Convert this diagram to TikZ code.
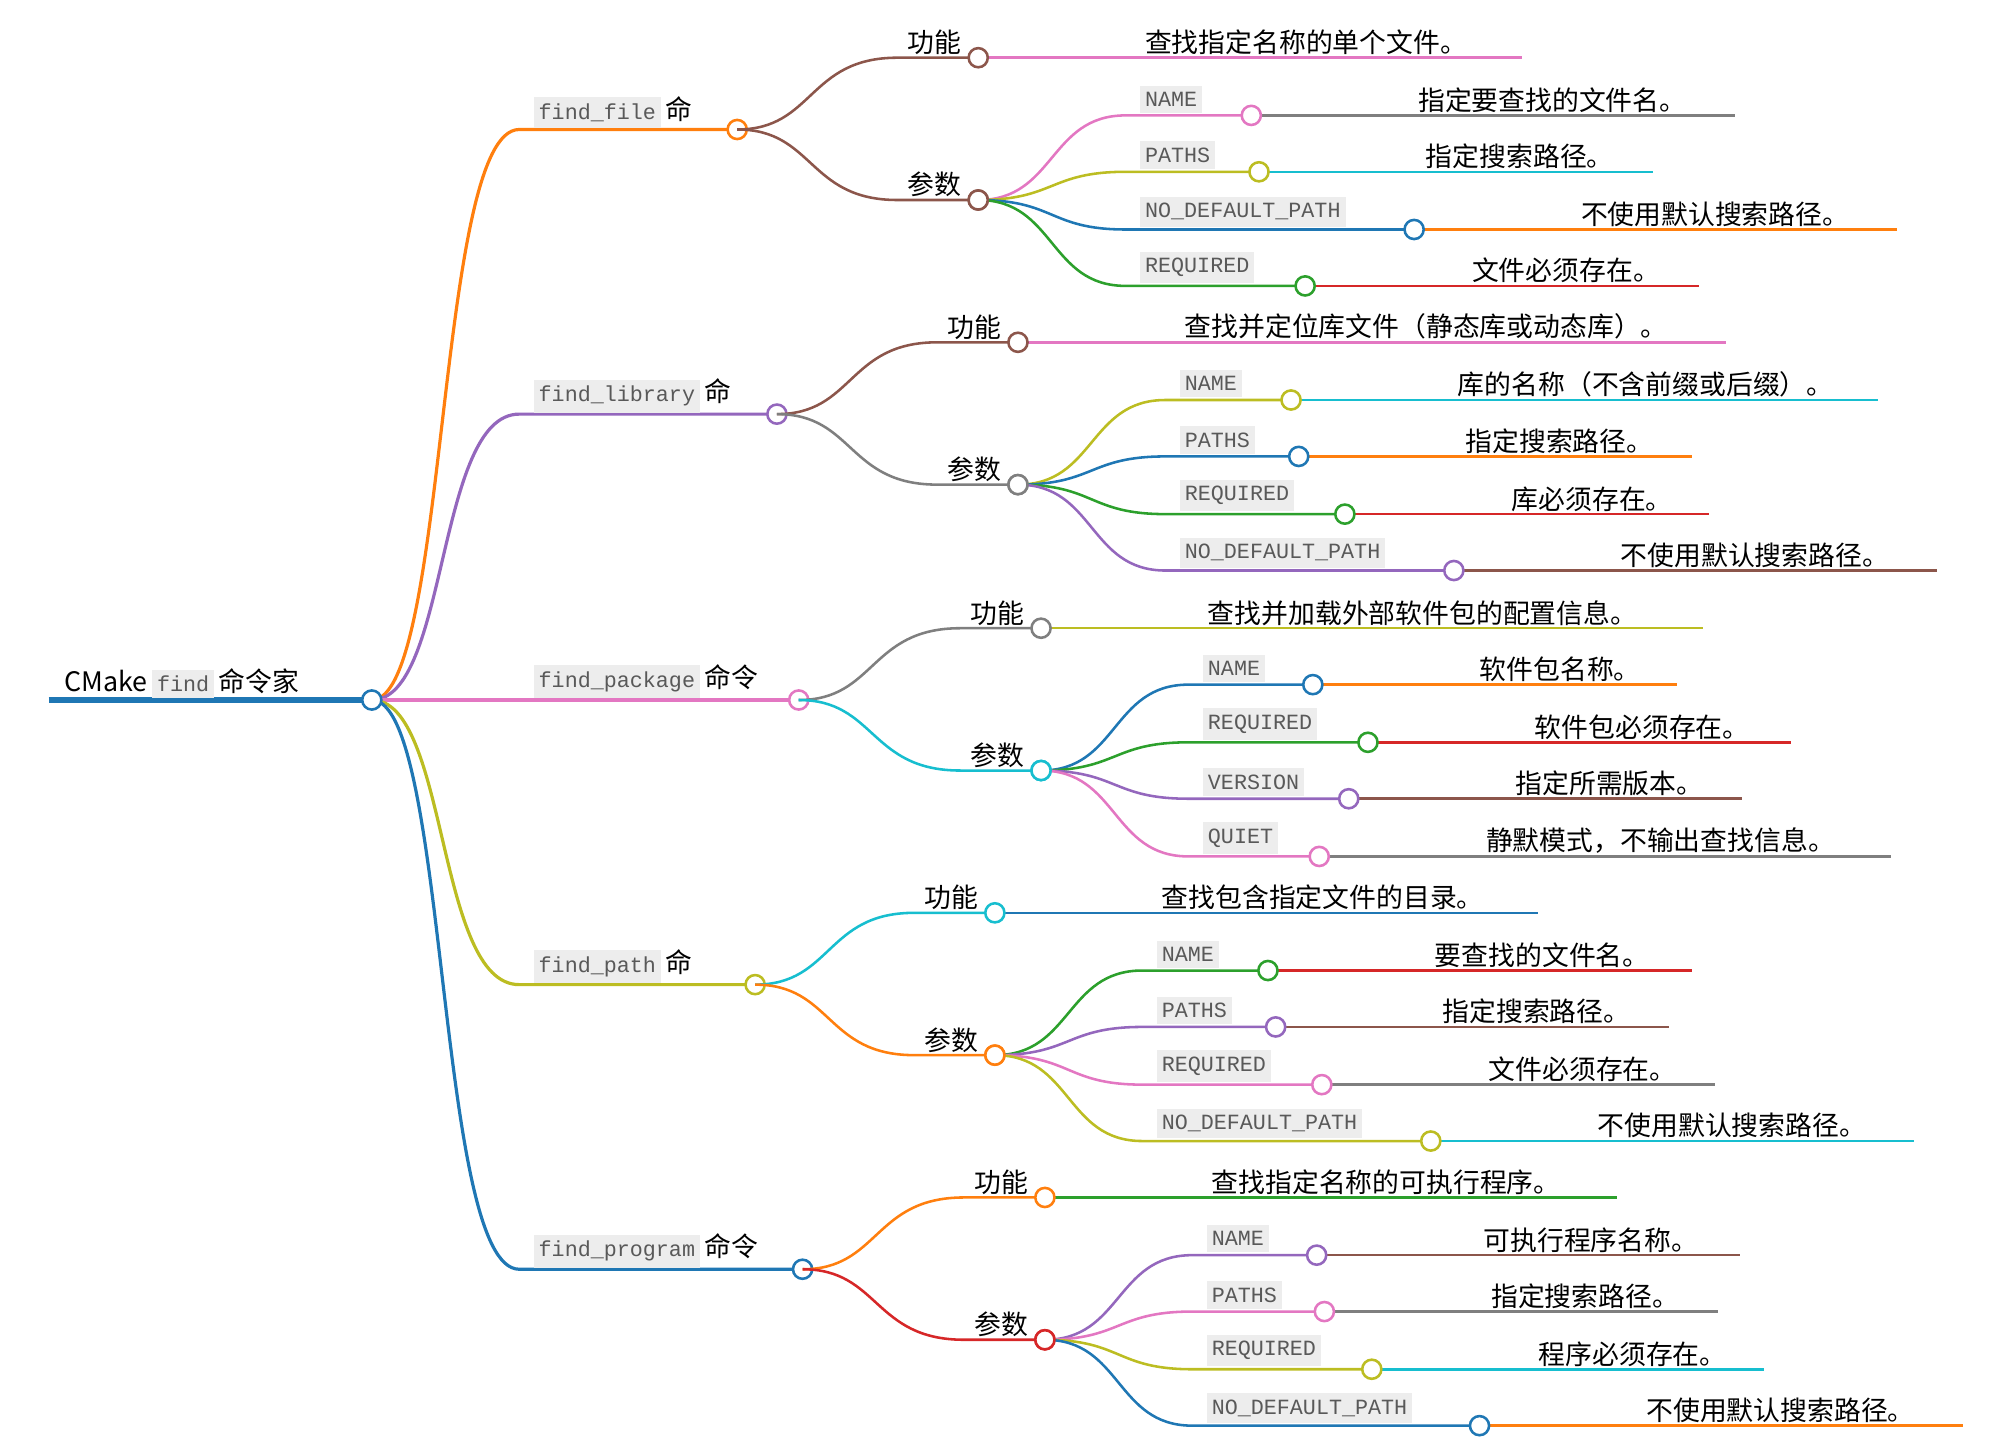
\documentclass[tikz,border=0pt]{standalone}
\usepackage{fontspec}
\setmainfont{Noto Sans CJK SC}
\setmonofont{Liberation Mono}
\usetikzlibrary{calc}
\definecolor{cO}{HTML}{FF7F0E}\definecolor{cP}{HTML}{9467BD}\definecolor{cK}{HTML}{E377C2}
\definecolor{cY}{HTML}{BCBD22}\definecolor{cB}{HTML}{1F77B4}\definecolor{cN}{HTML}{8C564B}
\definecolor{cG}{HTML}{7F7F7F}\definecolor{cC}{HTML}{17BECF}\definecolor{cV}{HTML}{2CA02C}
\definecolor{cR}{HTML}{D62728}
\tikzset{edge/.style={line width=2pt},
 circ/.style={circle,fill=white,line width=2pt,minimum size=15pt,inner sep=0pt},
 txt/.style={font=\fontsize{21}{24}\selectfont,inner sep=1pt,yshift=1pt},
 tag/.style={font=\fontsize{17}{19}\selectfont\ttfamily,fill=black!7,text=black!65,inner xsep=4pt,inner ysep=5pt,yshift=2pt}}
\newcommand\tg[1]{\tikz[baseline=(t.base)]\node[tag,yshift=0pt](t){#1};}
% param: px py y cx edgecol leafcol end label text
\newcommand\pp[9]{%
 \coordinate (s#3) at ({#1+115},#3);
 \coordinate (e#3) at (#7,#3);
 \draw[edge,#6] (#4,#3) -- (e#3);
 \draw[edge,#5] (#1,#2) .. controls ({#1+60},#2) and ({#1+55},#3) .. (s#3) -- (#4,#3);
 \node[tag,anchor=south west] (l#3) at ({#1+126},#3) {#8};
 \node[txt,anchor=south west] (t#3) at ({#4+129},#3) {#9};
 \node[circ,draw=#5] (c#3) at (#4,#3) {};
}
% level2: px py y cx edgecol leafcol end label text
\newcommand\fn[9]{%
 \coordinate (s#3) at ({#4-63},#3);
 \coordinate (e#3) at (#7,#3);
 \draw[edge,#6] (#4,#3) -- (e#3);
 \draw[edge,#5] (#1,#2) .. controls ({#1+60},#2) and ({#1+55},#3) .. (s#3) -- (#4,#3);
 \node[txt,anchor=south east] (l#3) at ({#4-12},#3) {#8};
 \ifx&#9&\else\node[txt,anchor=south west] (t#3) at ({#4+129},#3) {#9};\fi
 \node[circ,draw=#5] (c#3) at (#4,#3) {};
}
\begin{document}
\begin{tikzpicture}[x=1bp,y=-1bp]
\useasboundingbox (0,0) rectangle (1560,1131);
% level 1
\newcommand\lo[5]{%
 \coordinate (s#1) at (405,#1);
 \draw[line width=2.5pt,#3] (root) .. controls (350,546) and (340,#1) .. (s#1) -- (#2,#1);
 \node[txt,anchor=south west,inner sep=0pt] (l#1) at (416,#1) {\tg{#4}\,#5};
 \node[circ,draw=#3] (c#1) at (#2,#1) {};
}
\coordinate (root) at (290,546);
\coordinate (r0) at (38,546);
\lo{101}{575}{cO}{find\_file}{命}
\lo{323}{606}{cP}{find\_library}{命}
\lo{546}{623}{cK}{find\_package}{命令}
\lo{768}{589}{cY}{find\_path}{命}
\lo{990}{626}{cB}{find\_program}{命令}
\draw[line width=4pt,cB] (r0) -- (root);
\node[txt,anchor=south west,inner sep=0pt] at (50,546) {CMake\,\tg{find}\,命令家};
\node[circ,draw=cB] (rc) at (root) {};
% group 1
\fn{575}{101}{45}{763}{cN}{cK}{1187}{功能}{查找指定名称的单个文件。}
\fn{575}{101}{156}{763}{cN}{cN}{763}{参数}{}
\pp{763}{156}{90}{976}{cK}{cG}{1353}{NAME}{指定要查找的文件名。}
\pp{763}{156}{134}{982}{cY}{cC}{1289}{PATHS}{指定搜索路径。}
\pp{763}{156}{179}{1103}{cB}{cO}{1480}{NO\_DEFAULT\_PATH}{不使用默认搜索路径。}
\pp{763}{156}{223}{1018}{cV}{cR}{1325}{REQUIRED}{文件必须存在。}
\node[circ,draw=cN] at (763,156) {};
% group 2
\fn{606}{323}{267}{794}{cN}{cK}{1346}{功能}{查找并定位库文件（静态库或动态库）。}
\fn{606}{323}{378}{794}{cG}{cG}{794}{参数}{}
\pp{794}{378}{312}{1007}{cY}{cC}{1465}{NAME}{库的名称（不含前缀或后缀）。}
\pp{794}{378}{356}{1013}{cB}{cO}{1320}{PATHS}{指定搜索路径。}
\pp{794}{378}{401}{1049}{cV}{cR}{1333}{REQUIRED}{库必须存在。}
\pp{794}{378}{445}{1134}{cP}{cN}{1511}{NO\_DEFAULT\_PATH}{不使用默认搜索路径。}
\node[circ,draw=cG] at (794,378) {};
% group 3
\fn{623}{546}{490}{812}{cG}{cY}{1328}{功能}{查找并加载外部软件包的配置信息。}
\fn{623}{546}{601}{812}{cC}{cC}{812}{参数}{}
\pp{812}{601}{534}{1024}{cB}{cO}{1308}{NAME}{软件包名称。}
\pp{812}{601}{579}{1067}{cV}{cR}{1397}{REQUIRED}{软件包必须存在。}
\pp{812}{601}{623}{1052}{cP}{cN}{1359}{VERSION}{指定所需版本。}
\pp{812}{601}{668}{1029}{cK}{cG}{1475}{QUIET}{静默模式，不输出查找信息。}
\node[circ,draw=cC] at (812,601) {};
% group 4
\fn{589}{768}{712}{776}{cC}{cB}{1200}{功能}{查找包含指定文件的目录。}
\fn{589}{768}{823}{776}{cO}{cO}{776}{参数}{}
\pp{776}{823}{757}{989}{cV}{cR}{1320}{NAME}{要查找的文件名。}
\pp{776}{823}{801}{995}{cP}{cN}{1302}{PATHS}{指定搜索路径。}
\pp{776}{823}{846}{1031}{cK}{cG}{1338}{REQUIRED}{文件必须存在。}
\pp{776}{823}{890}{1116}{cY}{cC}{1493}{NO\_DEFAULT\_PATH}{不使用默认搜索路径。}
\node[circ,draw=cO] at (776,823) {};
% group 5
\fn{626}{990}{934}{815}{cO}{cV}{1261}{功能}{查找指定名称的可执行程序。}
\fn{626}{990}{1045}{815}{cR}{cR}{815}{参数}{}
\pp{815}{1045}{979}{1027}{cP}{cN}{1357}{NAME}{可执行程序名称。}
\pp{815}{1045}{1023}{1033}{cK}{cG}{1340}{PATHS}{指定搜索路径。}
\pp{815}{1045}{1068}{1070}{cY}{cC}{1376}{REQUIRED}{程序必须存在。}
\pp{815}{1045}{1112}{1154}{cB}{cO}{1531}{NO\_DEFAULT\_PATH}{不使用默认搜索路径。}
\node[circ,draw=cR] at (815,1045) {};
\end{tikzpicture}
\end{document}
